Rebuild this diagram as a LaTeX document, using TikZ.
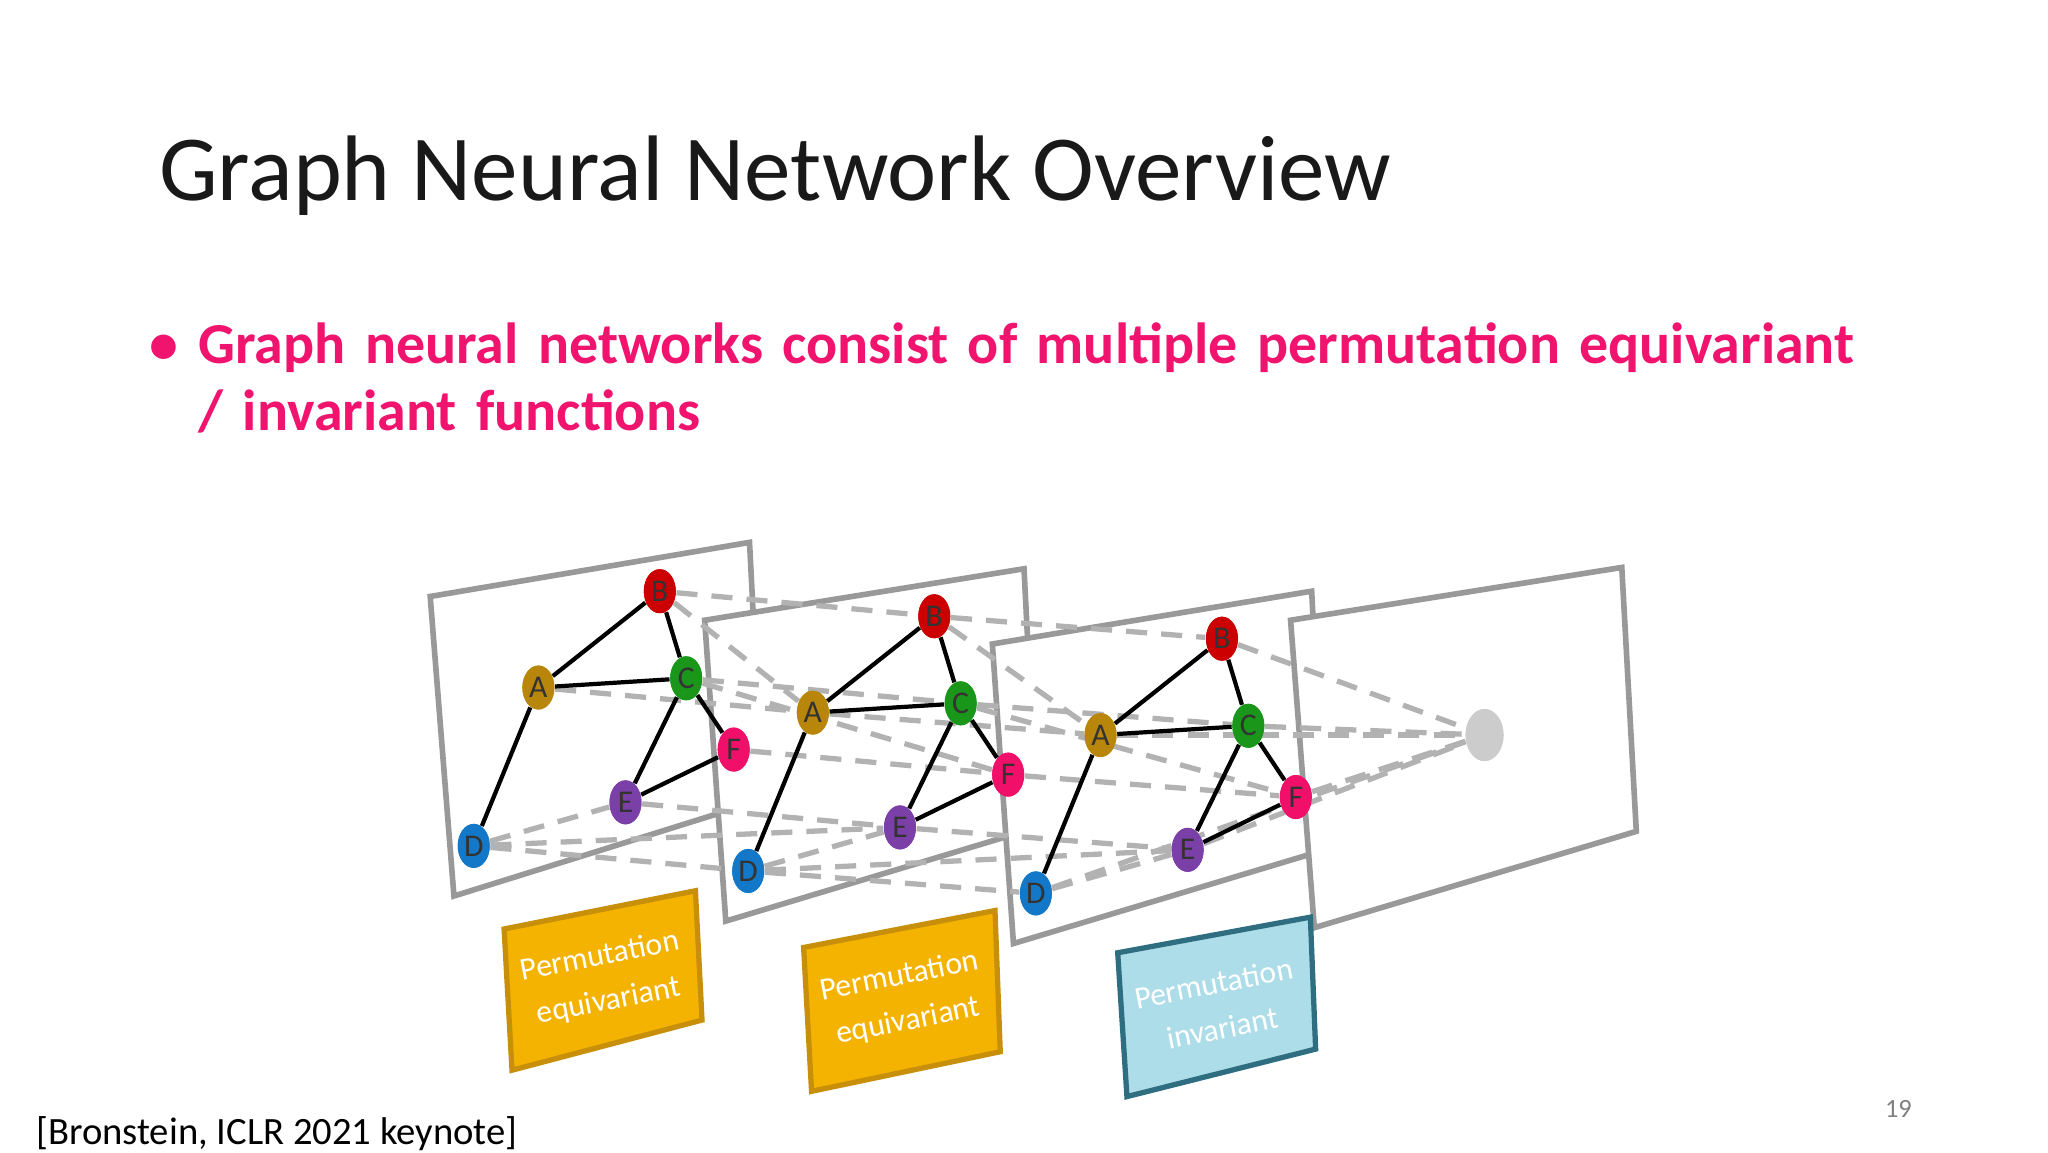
\documentclass[tikz,border=0pt]{standalone}
\usepackage{fontspec}
\setmainfont{Carlito}
\usetikzlibrary{shapes.geometric}
\definecolor{hot}{HTML}{F0146E}
\definecolor{cB}{HTML}{CC0000}
\definecolor{cA}{HTML}{B8860B}
\definecolor{cC}{HTML}{1A961A}
\definecolor{cF}{HTML}{F0106A}
\definecolor{cE}{HTML}{7B3FA8}
\definecolor{cD}{HTML}{1478C8}
\definecolor{orb}{HTML}{F5B301}
\definecolor{orl}{HTML}{C8900A}
\definecolor{blb}{HTML}{ADDDE8}
\definecolor{bll}{HTML}{2E6E80}
\tikzset{
 plane/.style={draw=gray!80,line width=1.6pt,fill=white},
 gn/.style={ellipse,minimum width=0.32cm,minimum height=0.44cm,inner sep=0pt,font=\fontsize{9}{9}\selectfont,text=black!80},
 ed/.style={line width=1.2pt,black},
 dsh/.style={line width=1.5pt,gray!60,dash pattern=on 6pt off 4pt},
 lbl/.style={white,font=\fontsize{9}{13}\selectfont,align=center,rotate=11},
}
\begin{document}
\begin{tikzpicture}[x=0.013196cm,y=-0.013196cm]
\useasboundingbox (0,0) rectangle (1552,873);
\node[anchor=base west,inner sep=0pt,font=\fontsize{26.5}{32}\selectfont,text=black!90] (title) at (120,152) {Graph Neural Network Overview};
\node[anchor=north west,inner sep=0pt,text width=19cm,align=left,font=\fontsize{16.5}{19}\selectfont\bfseries,text=hot] (bul) at (150,244) {\llap{•\hspace{0.2cm}}Graph neural networks consist of multiple permutation equivariant\\/ invariant functions};
\node[anchor=base west,inner sep=0pt,font=\fontsize{11}{13}\selectfont] (cite) at (27,867) {[Bronstein, ICLR 2021 keynote]};
\node[anchor=base west,inner sep=0pt,font=\fontsize{7.5}{9}\selectfont,text=gray] (pg) at (1428,847) {19};
% planes
\draw[plane] (326,452)--(568,411)--(578,606)--(344,679)--cycle;
\draw[plane] (534,470)--(776,431)--(786,627)--(550,698)--cycle;
\draw[plane] (752,488)--(994,448)--(1004,644)--(768,715)--cycle;
\draw[plane] (978,470)--(1229,430)--(1240,630)--(996,703)--cycle;
% nodes
\foreach \k/\dx/\dy in {1/0/0,2/208/19,3/426/36}{
 \node[gn,fill=cB] (B\k) at (500+\dx,448+\dy) {B};
 \node[gn,fill=cA] (A\k) at (408+\dx,521+\dy) {A};
 \node[gn,fill=cC] (C\k) at (520+\dx,514+\dy) {C};
 \node[gn,fill=cF] (F\k) at (556+\dx,568+\dy) {F};
 \node[gn,fill=cE] (E\k) at (474+\dx,608+\dy) {E};
 \node[gn,fill=cD] (D\k) at (359+\dx,641+\dy) {D};
}
\node[gn,fill=gray!40,minimum width=0.38cm,minimum height=0.52cm] (G) at (1125,557) {};
% dashed
\foreach \k/\n in {1/2,2/3}{
 \foreach \v in {A,B,C,D,E,F}{\draw[dsh] (\v\k)--(\v\n);}
 \draw[dsh] (B\k)--(A\n); \draw[dsh] (D\k)--(E\n); \draw[dsh] (C\k)--(F\n);
}
\foreach \v in {A,B,C,D,E,F}{\draw[dsh] (\v3)--(G);}
\draw[dsh] (D1)--(E1); \draw[dsh] (D2)--(E2);\draw[dsh] (D3)--(E3);
% solid edges
\foreach \k in {1,2,3}{
 \draw[ed] (B\k)--(A\k); \draw[ed] (B\k)--(C\k); \draw[ed] (A\k)--(C\k);
 \draw[ed] (C\k)--(E\k); \draw[ed] (C\k)--(F\k); \draw[ed] (E\k)--(F\k); \draw[ed] (A\k)--(D\k);
}
% redraw nodes on top
\foreach \k/\dx/\dy in {1/0/0,2/208/19,3/426/36}{
 \node[gn,fill=cB] at (500+\dx,448+\dy) {B};
 \node[gn,fill=cA] at (408+\dx,521+\dy) {A};
 \node[gn,fill=cC] at (520+\dx,514+\dy) {C};
 \node[gn,fill=cF] at (556+\dx,568+\dy) {F};
 \node[gn,fill=cE] at (474+\dx,608+\dy) {E};
 \node[gn,fill=cD] at (359+\dx,641+\dy) {D};
}
\node[gn,fill=gray!40,minimum width=0.38cm,minimum height=0.52cm] at (1125,557) {};
% boxes
\draw[fill=orb,draw=orl,line width=1.5pt] (382,704)--(527,675)--(532,773)--(388,811)--cycle;
\node[lbl] (l1) at (458,742) {Permutation\\equivariant};
\draw[fill=orb,draw=orl,line width=1.5pt] (609,718)--(754,690)--(758,797)--(615,827)--cycle;
\node[lbl] (l2) at (685,757) {Permutation\\equivariant};
\draw[fill=blb,draw=bll,line width=1.5pt] (847,722)--(993,695)--(997,795)--(854,831)--cycle;
\node[lbl] (l3) at (923,762) {Permutation\\invariant};
\end{tikzpicture}
\end{document}
